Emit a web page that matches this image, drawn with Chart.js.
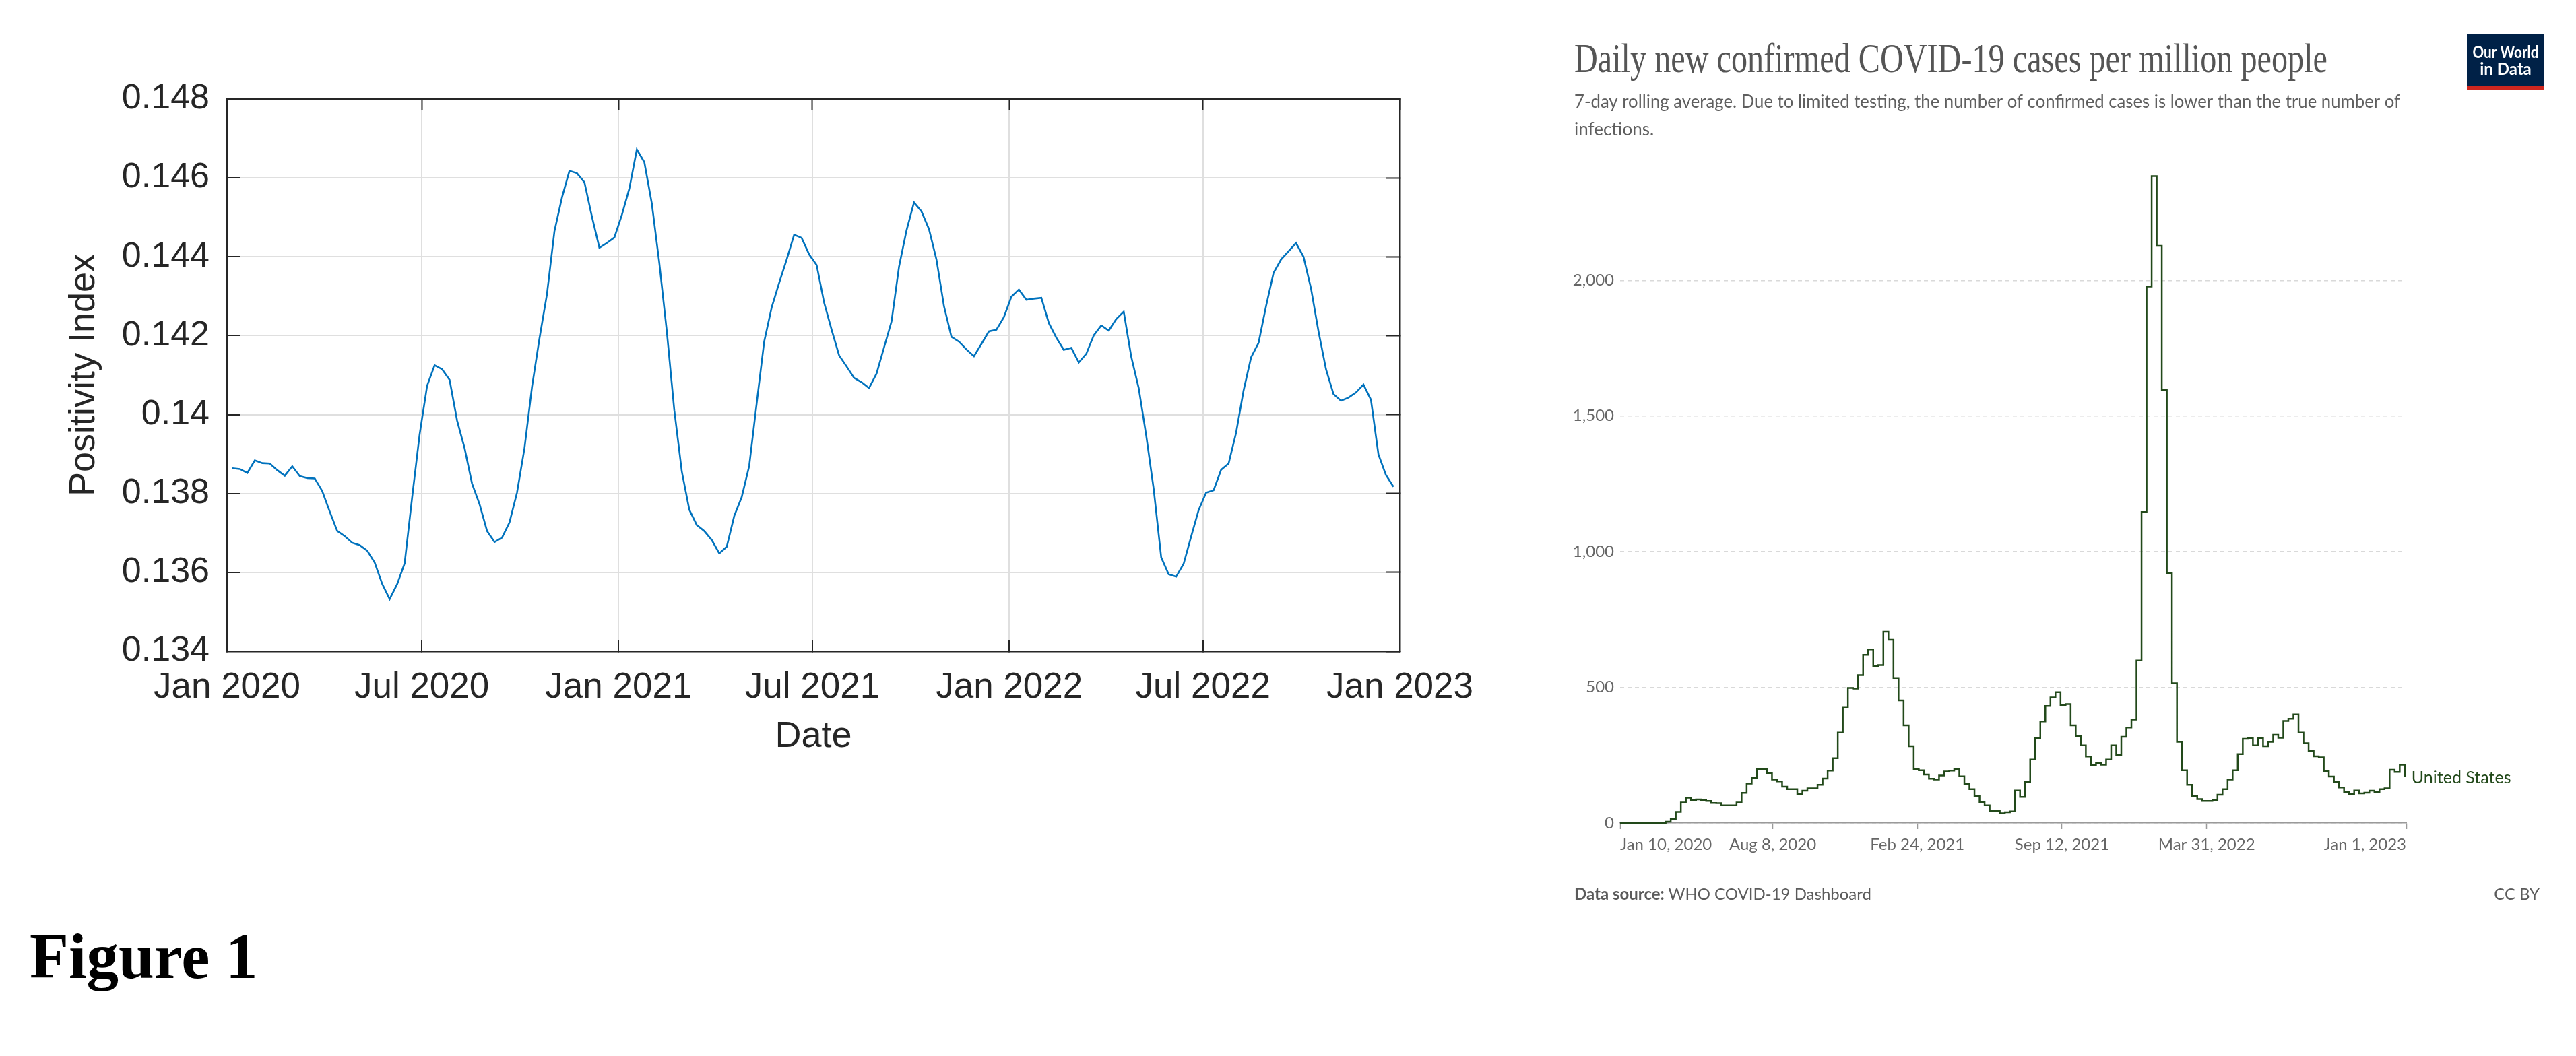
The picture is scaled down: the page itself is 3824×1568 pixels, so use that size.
<!DOCTYPE html>
<html>
<head>
<meta charset="utf-8">
<script src="https://cdn.jsdelivr.net/npm/chart.js@4.4.1/dist/chart.umd.min.js"></script>
<style>
body { margin: 0; background: #fff; width: 3824px; height: 1568px; overflow: hidden; position: relative; }
canvas { position: absolute; top: 0; }
#left { left: 0; }
#right { left: 2200px; }
</style>
</head>
<body>
<canvas id="left" width="2200" height="1568"></canvas>
<canvas id="right" width="1624" height="1568"></canvas>
<script>
// ---- left panel: weekly positivity index (first value ~6 Jan 2020) ----
const firstWeekDay = 5; // days after 1 Jan 2020
const positivity = [
  0.13864, 0.13862, 0.13852, 0.13884, 0.13877, 0.13876, 0.13859, 0.13845, 0.13869, 0.13844,
  0.13839, 0.13838, 0.13806, 0.13754, 0.13705, 0.13692, 0.13675, 0.13669, 0.13655, 0.13625,
  0.13571, 0.13532, 0.13570, 0.13623, 0.13790, 0.13950, 0.14073, 0.14125, 0.14115, 0.14088,
  0.13985, 0.13915, 0.13825, 0.13773, 0.13705, 0.13677, 0.13688, 0.13727, 0.13802, 0.13915,
  0.14070, 0.14193, 0.14305, 0.14465, 0.14550, 0.14618, 0.14612, 0.14589, 0.14502, 0.14423,
  0.14435, 0.14449, 0.14506,
  0.14573, 0.14672, 0.14640, 0.14535, 0.14384, 0.14211, 0.14011, 0.13856, 0.13759, 0.13720,
  0.13705, 0.13682, 0.13648, 0.13665, 0.13743, 0.13791, 0.13870, 0.14029, 0.14185, 0.14272,
  0.14334, 0.14393, 0.14456, 0.14448, 0.14406, 0.14379, 0.14284, 0.14215, 0.14150, 0.14122,
  0.14093, 0.14082, 0.14067, 0.14104, 0.14170, 0.14236, 0.14375, 0.14467, 0.14538, 0.14515,
  0.14470, 0.14393, 0.14275, 0.14197, 0.14185, 0.14165, 0.14148, 0.14179, 0.14211, 0.14215,
  0.14247, 0.14299,
  0.14317, 0.14291, 0.14294, 0.14296, 0.14232, 0.14195, 0.14164, 0.14169, 0.14132, 0.14154,
  0.14201, 0.14226, 0.14213, 0.14242, 0.14261, 0.14147, 0.14067, 0.13947, 0.13811, 0.13638,
  0.13595, 0.13589, 0.13622, 0.13691, 0.13758, 0.13802, 0.13808, 0.13860, 0.13876, 0.13954,
  0.14061, 0.14145, 0.14182, 0.14275, 0.14359, 0.14393, 0.14414, 0.14435, 0.14400, 0.14320,
  0.14211, 0.14115, 0.14052, 0.14035, 0.14043, 0.14056, 0.14076, 0.14038, 0.13899, 0.13847,
  0.13817
];
const dateTickDays = [0, 182, 366, 547, 731, 912, 1096];
const dateTickLabels = ['Jan 2020', 'Jul 2020', 'Jan 2021', 'Jul 2021', 'Jan 2022', 'Jul 2022', 'Jan 2023'];
const indexTicks = [0.134, 0.136, 0.138, 0.140, 0.142, 0.144, 0.146, 0.148];
const indexTickLabels = ['0.134', '0.136', '0.138', '0.14', '0.142', '0.144', '0.146', '0.148'];

// ---- right panel: OWID weekly cases per million, United States (from 10 Jan 2020) ----
const casesPerMillion = [
  0, 0, 0, 0, 0, 0, 0, 0, 0, 5,
  14, 41, 76, 93, 84, 87, 84, 81, 74, 73,
  65, 65, 65, 76, 111, 145, 166, 198, 198, 183,
  160, 153, 134, 125, 125, 106, 119, 128, 128, 141,
  164, 193, 239, 333, 425, 498, 495, 545, 620, 640,
  578, 582, 705, 675, 534, 452, 360, 283, 199, 194,
  179, 163, 160, 175, 190, 193, 198, 172, 144, 125,
  100, 77, 65, 44, 44, 36, 40, 43, 120, 96,
  152, 234, 313, 374, 431, 463, 482, 434, 438, 360,
  321, 286, 245, 213, 220, 215, 234, 286, 251, 318,
  352, 381, 599, 1146, 1977, 2384, 2127, 1597, 921, 515,
  299, 194, 141, 100, 88, 81, 81, 84, 104, 125,
  160, 194, 254, 310, 313, 286, 313, 283, 299, 325,
  314, 376, 384, 400, 333, 294, 265, 246, 242, 191,
  171, 152, 131, 115, 107, 120, 109, 112, 119, 115,
  125, 128, 196, 188, 215, 171
];
const caseTickDays = [0, 211, 411, 611, 811, 1087];
const caseTickLabels = ['Jan 10, 2020', 'Aug 8, 2020', 'Feb 24, 2021', 'Sep 12, 2021', 'Mar 31, 2022', 'Jan 1, 2023'];
const caseTicks = [0, 500, 1000, 1500, 2000];
const caseTickLabels2 = ['0', '500', '1,000', '1,500', '2,000'];

const chartTitle = 'Daily new confirmed COVID-19 cases per million people';
const subtitleLines = [
  '7-day rolling average. Due to limited testing, the number of confirmed cases is lower than the true number of',
  'infections.'
];

const dark = '#262626';
const setTicks = (vals) => (scale) => { scale.ticks = vals.map(v => ({ value: v })); };
// keep the plot box fixed: no extra room for overhanging end labels
const fixHeight = (h) => (s) => { s.height = h; s.paddingLeft = 0; s.paddingRight = 0; };
const fixWidth = (w) => (s) => { s.width = w; s.paddingTop = 0; s.paddingBottom = 0; };

const figureLabel = {
  id: 'figureLabel',
  afterDraw(chart) {
    const ctx = chart.ctx;
    ctx.save();
    ctx.font = 'bold 95px "Liberation Serif"';
    ctx.fillStyle = '#000';
    ctx.textAlign = 'left';
    ctx.textBaseline = 'alphabetic';
    ctx.fillText('Figure 1', 44, 1452);
    ctx.restore();
  }
};

// matlab-ish box axes: ticks point inward (negative tick length)
new Chart(document.getElementById('left'), {
  type: 'line',
  data: {
    datasets: [{
      data: positivity.map((v, i) => ({ x: firstWeekDay + 7 * i, y: v })),
      borderColor: '#0072BD',
      borderWidth: 2.6,
      pointRadius: 0,
      tension: 0
    }]
  },
  options: {
    responsive: false,
    animation: false,
    devicePixelRatio: 1,
    events: [],
    layout: { padding: { left: 0, top: 147, right: 122, bottom: 0 } },
    plugins: { legend: { display: false }, tooltip: { enabled: false } },
    scales: {
      x: {
        type: 'linear', position: 'bottom', min: 0, max: 1096,
        afterBuildTicks: setTicks(dateTickDays),
        afterFit: fixHeight(601),
        grid: { color: '#dfdfdf', lineWidth: 2, tickColor: dark, tickWidth: 2, tickLength: -17 },
        border: { color: dark, width: 2.5 },
        ticks: {
          autoSkip: false, maxRotation: 0, padding: 40, color: dark,
          font: { family: 'Liberation Sans', size: 53 },
          callback: (v, i) => dateTickLabels[i]
        },
        title: {
          display: true, text: 'Date', color: dark,
          font: { family: 'Liberation Sans', size: 54 },
          padding: { top: 0, bottom: 441 }
        }
      },
      x2: {
        type: 'linear', position: 'top', min: 0, max: 1096,
        afterBuildTicks: setTicks(dateTickDays),
        afterFit: fixHeight(0),
        grid: { drawOnChartArea: false, tickColor: dark, tickWidth: 2, tickLength: -17 },
        border: { color: dark, width: 2.5 },
        ticks: { display: false }
      },
      y: {
        type: 'linear', position: 'left', min: 0.134, max: 0.148,
        afterBuildTicks: setTicks(indexTicks),
        afterFit: fixWidth(337),
        grid: { color: '#dfdfdf', lineWidth: 2, tickColor: dark, tickWidth: 2, tickLength: -20 },
        border: { color: dark, width: 2.5 },
        ticks: {
          autoSkip: false, padding: 46, color: dark,
          font: { family: 'Liberation Sans', size: 52 },
          callback: (v, i) => indexTickLabels[i]
        },
        title: {
          display: true, text: 'Positivity Index', color: dark,
          font: { family: 'Liberation Sans', size: 54 },
          padding: { top: 93, bottom: 0 }
        }
      },
      y2: {
        type: 'linear', position: 'right', min: 0.134, max: 0.148,
        afterBuildTicks: setTicks(indexTicks),
        afterFit: fixWidth(0),
        grid: { drawOnChartArea: false, tickColor: dark, tickWidth: 2, tickLength: -20 },
        border: { color: dark, width: 2.5 },
        ticks: { display: false }
      }
    }
  },
  plugins: [figureLabel]
});

const usGreen = '#22491a';

const owidText = {
  id: 'owidText',
  afterDatasetsDraw(chart) {
    const ctx = chart.ctx;
    const pts = chart.getDatasetMeta(0).data;
    const last = pts[pts.length - 1];
    ctx.save();
    ctx.font = '25px Lato';
    ctx.fillStyle = usGreen;
    ctx.textAlign = 'left';
    ctx.textBaseline = 'middle';
    ctx.fillText('United States', last.x + 10, last.y + 2);
    ctx.restore();
  },
  afterDraw(chart) {
    const ctx = chart.ctx;
    ctx.save();
    ctx.textAlign = 'left';
    ctx.textBaseline = 'alphabetic';
    ctx.fillStyle = '#555';
    ctx.font = '62px "Liberation Serif"';
    ctx.fillText(chartTitle, 137, 107, 1118);
    ctx.fillStyle = '#5f5f5f';
    ctx.font = '26px Lato';
    ctx.fillText(subtitleLines[0], 137, 160, 1226);
    ctx.fillText(subtitleLines[1], 137, 201, 400);

    // logo
    ctx.fillStyle = '#002147';
    ctx.fillRect(1462, 50, 115, 77);
    ctx.fillStyle = '#ce261e';
    ctx.fillRect(1462, 127, 115, 6);
    ctx.fillStyle = '#fff';
    ctx.textAlign = 'center';
    ctx.font = 'bold 24px Lato';
    ctx.fillText('Our World', 1519.5, 86, 98);
    ctx.fillText('in Data', 1519.5, 111, 98);

    // footer
    ctx.textAlign = 'left';
    ctx.fillStyle = '#5b5b5b';
    ctx.font = 'bold 24px Lato';
    const lead = 'Data source:';
    ctx.fillText(lead, 137, 1336);
    const w = ctx.measureText(lead + ' ').width;
    ctx.font = '24px Lato';
    ctx.fillText('WHO COVID-19 Dashboard', 137 + w, 1336);
    ctx.textAlign = 'right';
    ctx.fillText('CC BY', 1570, 1336);
    ctx.restore();
  }
};

new Chart(document.getElementById('right'), {
  type: 'line',
  data: {
    datasets: [{
      data: casesPerMillion.map((v, i) => ({ x: 7 * i, y: v })),
      borderColor: usGreen,
      borderWidth: 2.5,
      pointRadius: 0,
      stepped: 'before',
      clip: 4
    }]
  },
  options: {
    responsive: false,
    animation: false,
    devicePixelRatio: 1,
    events: [],
    layout: { padding: { left: 0, top: 235, right: 252, bottom: 0 } },
    plugins: { legend: { display: false }, tooltip: { enabled: false } },
    scales: {
      x: {
        type: 'linear', position: 'bottom', min: 0, max: 1087,
        afterBuildTicks: setTicks(caseTickDays),
        afterFit: fixHeight(346),
        grid: { drawOnChartArea: false, color: '#9a9a9a', tickColor: '#9a9a9a', tickWidth: 1.5, tickLength: 9 },
        border: { color: '#9a9a9a', width: 1.5 },
        ticks: {
          autoSkip: false, maxRotation: 0, align: 'inner', padding: 9, color: '#666',
          font: { family: 'Lato', size: 24 },
          callback: (v, i) => caseTickLabels[i]
        }
      },
      y: {
        type: 'linear', position: 'left', min: 0, max: 2450,
        afterBuildTicks: setTicks(caseTicks),
        afterFit: fixWidth(205),
        grid: { color: '#d9d9d9', lineWidth: 1.5, drawTicks: false },
        border: { display: false, dash: [6, 5] },
        ticks: {
          autoSkip: false, padding: 9, color: '#666',
          font: { family: 'Lato', size: 24 },
          callback: (v, i) => caseTickLabels2[i]
        }
      }
    }
  },
  plugins: [owidText]
});
</script>
</body>
</html>
